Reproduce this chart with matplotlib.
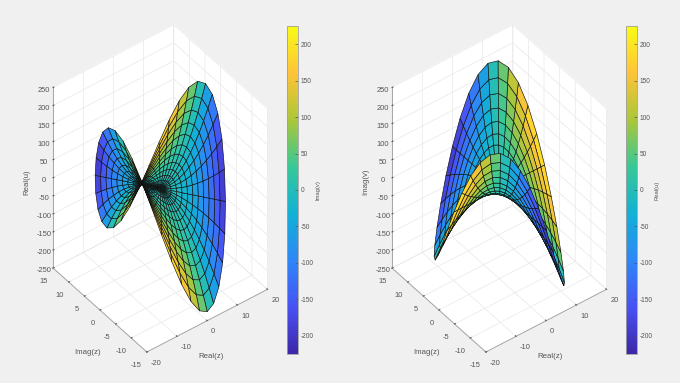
import numpy as np
import matplotlib
matplotlib.use('Agg')
import matplotlib.pyplot as plt
from matplotlib.colors import LinearSegmentedColormap, Normalize
from matplotlib.cm import ScalarMappable

plt.rcParams['font.family'] = ['Liberation Sans', 'DejaVu Sans']
plt.rcParams['grid.color'] = '#e8e8e8'
plt.rcParams['grid.linewidth'] = 0.5
plt.rcParams['axes.unicode_minus'] = False

# polar grid of z
radius = [0, 1.25, 2.5, 3.75, 5, 6.25, 7.5, 8.75, 10, 11.25, 12.5, 13.75, 15]
angle_deg = [-180, -171, -162, -153, -144, -135, -126, -117, -108, -99,
             -90, -81, -72, -63, -54, -45, -36, -27, -18, -9,
             0, 9, 18, 27, 36, 45, 54, 63, 72, 81,
             90, 99, 108, 117, 126, 135, 144, 153, 162, 171, 180]

# one half turn, rows follow radius, columns the first 20 angles (z^2 repeats after 180 deg)
real_u = [
    [0, 0, 0, 0, 0, 0, 0, 0, 0, 0, 0, 0, 0, 0, 0, 0, 0, 0, 0, 0],
    [1.6, 1.5, 1.3, 0.9, 0.5, 0, -0.5, -0.9, -1.3, -1.5, -1.6, -1.5, -1.3, -0.9, -0.5, 0, 0.5, 0.9, 1.3, 1.5],
    [6.2, 5.9, 5.1, 3.7, 1.9, 0, -1.9, -3.7, -5.1, -5.9, -6.2, -5.9, -5.1, -3.7, -1.9, 0, 1.9, 3.7, 5.1, 5.9],
    [14.1, 13.4, 11.4, 8.3, 4.3, 0, -4.3, -8.3, -11.4, -13.4, -14.1, -13.4, -11.4, -8.3, -4.3, 0, 4.3, 8.3, 11.4, 13.4],
    [25, 23.8, 20.2, 14.7, 7.7, 0, -7.7, -14.7, -20.2, -23.8, -25, -23.8, -20.2, -14.7, -7.7, 0, 7.7, 14.7, 20.2, 23.8],
    [39.1, 37.1, 31.6, 23, 12.1, 0, -12.1, -23, -31.6, -37.1, -39.1, -37.1, -31.6, -23, -12.1, 0, 12.1, 23, 31.6, 37.1],
    [56.2, 53.5, 45.5, 33.1, 17.4, 0, -17.4, -33.1, -45.5, -53.5, -56.2, -53.5, -45.5, -33.1, -17.4, 0, 17.4, 33.1, 45.5, 53.5],
    [76.6, 72.8, 61.9, 45, 23.7, 0, -23.7, -45, -61.9, -72.8, -76.6, -72.8, -61.9, -45, -23.7, 0, 23.7, 45, 61.9, 72.8],
    [100, 95.1, 80.9, 58.8, 30.9, 0, -30.9, -58.8, -80.9, -95.1, -100, -95.1, -80.9, -58.8, -30.9, 0, 30.9, 58.8, 80.9, 95.1],
    [126.6, 120.4, 102.4, 74.4, 39.1, 0, -39.1, -74.4, -102.4, -120.4, -126.6, -120.4, -102.4, -74.4, -39.1, 0, 39.1, 74.4, 102.4, 120.4],
    [156.2, 148.6, 126.4, 91.8, 48.3, 0, -48.3, -91.8, -126.4, -148.6, -156.2, -148.6, -126.4, -91.8, -48.3, 0, 48.3, 91.8, 126.4, 148.6],
    [189.1, 179.8, 153, 111.1, 58.4, 0, -58.4, -111.1, -153, -179.8, -189.1, -179.8, -153, -111.1, -58.4, 0, 58.4, 111.1, 153, 179.8],
    [225, 214, 182, 132.3, 69.5, 0, -69.5, -132.3, -182, -214, -225, -214, -182, -132.3, -69.5, 0, 69.5, 132.3, 182, 214],
]
imag_v = [
    [0, 0, 0, 0, 0, 0, 0, 0, 0, 0, 0, 0, 0, 0, 0, 0, 0, 0, 0, 0],
    [0, 0.5, 0.9, 1.3, 1.5, 1.6, 1.5, 1.3, 0.9, 0.5, 0, -0.5, -0.9, -1.3, -1.5, -1.6, -1.5, -1.3, -0.9, -0.5],
    [0, 1.9, 3.7, 5.1, 5.9, 6.2, 5.9, 5.1, 3.7, 1.9, 0, -1.9, -3.7, -5.1, -5.9, -6.2, -5.9, -5.1, -3.7, -1.9],
    [0, 4.3, 8.3, 11.4, 13.4, 14.1, 13.4, 11.4, 8.3, 4.3, 0, -4.3, -8.3, -11.4, -13.4, -14.1, -13.4, -11.4, -8.3, -4.3],
    [0, 7.7, 14.7, 20.2, 23.8, 25, 23.8, 20.2, 14.7, 7.7, 0, -7.7, -14.7, -20.2, -23.8, -25, -23.8, -20.2, -14.7, -7.7],
    [0, 12.1, 23, 31.6, 37.1, 39.1, 37.1, 31.6, 23, 12.1, 0, -12.1, -23, -31.6, -37.1, -39.1, -37.1, -31.6, -23, -12.1],
    [0, 17.4, 33.1, 45.5, 53.5, 56.2, 53.5, 45.5, 33.1, 17.4, 0, -17.4, -33.1, -45.5, -53.5, -56.2, -53.5, -45.5, -33.1, -17.4],
    [0, 23.7, 45, 61.9, 72.8, 76.6, 72.8, 61.9, 45, 23.7, 0, -23.7, -45, -61.9, -72.8, -76.6, -72.8, -61.9, -45, -23.7],
    [0, 30.9, 58.8, 80.9, 95.1, 100, 95.1, 80.9, 58.8, 30.9, 0, -30.9, -58.8, -80.9, -95.1, -100, -95.1, -80.9, -58.8, -30.9],
    [0, 39.1, 74.4, 102.4, 120.4, 126.6, 120.4, 102.4, 74.4, 39.1, 0, -39.1, -74.4, -102.4, -120.4, -126.6, -120.4, -102.4, -74.4, -39.1],
    [0, 48.3, 91.8, 126.4, 148.6, 156.2, 148.6, 126.4, 91.8, 48.3, 0, -48.3, -91.8, -126.4, -148.6, -156.2, -148.6, -126.4, -91.8, -48.3],
    [0, 58.4, 111.1, 153, 179.8, 189.1, 179.8, 153, 111.1, 58.4, 0, -58.4, -111.1, -153, -179.8, -189.1, -179.8, -153, -111.1, -58.4],
    [0, 69.5, 132.3, 182, 214, 225, 214, 182, 132.3, 69.5, 0, -69.5, -132.3, -182, -214, -225, -214, -182, -132.3, -69.5],
]

x_ticks = [-20, -10, 0, 10, 20]
y_ticks = [-15, -10, -5, 0, 5, 10, 15]
z_ticks = [-250, -200, -150, -100, -50, 0, 50, 100, 150, 200, 250]
cbar_ticks = [-200, -150, -100, -50, 0, 50, 100, 150, 200]

parula = LinearSegmentedColormap.from_list('parula', [
    (0.2422, 0.1504, 0.6603), (0.2810, 0.3228, 0.9579), (0.1786, 0.5289, 0.9682),
    (0.0689, 0.6948, 0.8394), (0.2161, 0.7843, 0.5923), (0.6720, 0.7793, 0.2227),
    (0.9970, 0.7659, 0.2199), (0.9769, 0.9839, 0.0805)])

W, H = 680, 383
BG = '#f0f0f0'
TXT = '#555555'


def full_turn(half):
    half = np.array(half, dtype=float)
    return np.hstack([half, half, half[:, :1]])


R, T = np.meshgrid(radius, np.radians(angle_deg), indexing='ij')
X = R * np.cos(T)
Y = R * np.sin(T)
U = full_turn(real_u)
V = full_turn(imag_v)
norm = Normalize(-225, 225)


def panel(fig, shift, height, colour, zname, cname):
    size = 319
    cx = 156 + shift
    cy = 192.7
    ax = fig.add_axes([(cx - size / 2) / W, 1 - (cy + size / 2) / H, size / W, size / H],
                      projection='3d', proj_type='ortho', facecolor='none')
    ax.view_init(elev=43, azim=-127.3)
    ax.set_box_aspect((152, 155, 247.5), zoom=1.0)
    ax.plot_surface(X, Y, height, facecolors=parula(norm(colour)), rstride=1, cstride=1,
                    shade=False, edgecolor='#111111', linewidth=0.45, antialiased=True)
    ax.set_xlim(-20, 20, view_margin=0)
    ax.set_ylim(-15, 15, view_margin=0)
    ax.set_zlim(-250, 250, view_margin=0)
    ax.set_xticks(x_ticks)
    ax.set_yticks(y_ticks)
    ax.set_zticks(z_ticks)
    ax.tick_params(labelsize=5.4, colors=TXT, pad=-3)
    for lab in ax.get_xticklabels():
        lab.set_ha('left')
        lab.set_va('center')
    for lab in ax.get_yticklabels():
        lab.set_ha('right')
    for axis in (ax.xaxis, ax.yaxis, ax.zaxis):
        axis.set_pane_color('white')
        axis.pane.set_edgecolor('white')
        axis.line.set_color('#a6a6a6')
        axis.line.set_linewidth(0.7)
        axis._axinfo['tick']['inward_factor'] = 0.0
        axis._axinfo['tick']['outward_factor'] = 0.08
    fig.text((27 + shift) / W, 1 - 182 / H, zname, rotation=90, ha='center', va='center',
             fontsize=5.6, color=TXT)
    fig.text((88 + shift) / W, 1 - 352 / H, 'Imag(z)', ha='center', va='center', fontsize=5.6, color=TXT)
    fig.text((211 + shift) / W, 1 - 357 / H, 'Real(z)', ha='center', va='center', fontsize=5.6, color=TXT)

    cax = fig.add_axes([(287 + shift) / W, 1 - 354 / H, 11 / W, 328 / H])
    cb = fig.colorbar(ScalarMappable(norm=norm, cmap=parula), cax=cax)
    cb.set_ticks(cbar_ticks)
    cb.ax.tick_params(direction='in', length=2, width=0.5, labelsize=4.7, colors=TXT, pad=2)
    cb.outline.set_edgecolor('#a0a0a0')
    cb.outline.set_linewidth(0.6)
    cb.set_label(cname, fontsize=4.2, color=TXT, labelpad=1)
    return ax


fig = plt.figure(figsize=(W / 100, H / 100), dpi=100, facecolor=BG)
panel(fig, 0, U, V, 'Real(u)', 'Imag(v)')
panel(fig, 339, V, U, 'Imag(v)', 'Real(u)')
fig.savefig('out.png', dpi=100, facecolor=BG)
